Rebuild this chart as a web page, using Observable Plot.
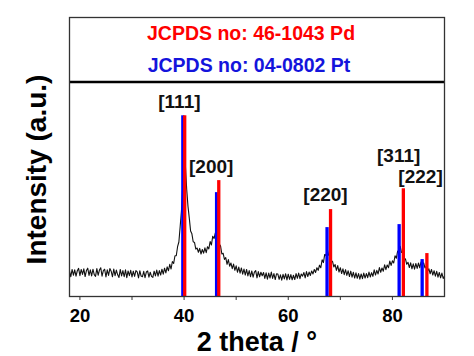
<!DOCTYPE html>
<html><head><meta charset="utf-8">
<script src="https://cdn.jsdelivr.net/npm/d3@7"></script>
<script src="https://cdn.jsdelivr.net/npm/@observablehq/plot@0.6"></script>
<style>
html,body{margin:0;padding:0;background:#fff;}
#chart svg{display:block;}
</style></head><body><div id="chart"></div>
<script>
// XRD pattern: 2θ grid start/step, intensity (a.u.)
const thetaStart = 18, thetaStep = 0.25;
const intensity = [
0.118,0.092,0.126,0.099, 0.124,0.095,0.120,0.131, 0.097,0.126,0.103,0.129, 0.093,0.121,0.132,0.098,
0.124,0.096,0.127,0.102, 0.094,0.130,0.099,0.123, 0.134,0.095,0.121,0.127, 0.091,0.124,0.098,0.130,
0.118,0.092,0.128,0.097, 0.123,0.101,0.089,0.126, 0.096,0.121,0.092,0.124, 0.088,0.119,0.097,0.122,
0.091,0.118,0.094,0.121, 0.115,0.087,0.120,0.095, 0.092,0.117,0.088,0.114, 0.119,0.090,0.113,0.094,
0.089,0.118,0.096,0.123, 0.095,0.121,0.100,0.127, 0.104,0.132,0.110,0.138, 0.120,0.150,0.128,0.163,
0.154,0.190,0.190,0.232, 0.254,0.326,0.400,0.520, 0.670,0.610,0.500,0.420, 0.365,0.305,0.292,0.255,
0.252,0.221,0.226,0.206, 0.224,0.198,0.219,0.202, 0.227,0.204,0.232,0.222, 0.256,0.240,0.281,0.270,
0.296,0.284,0.287,0.244, 0.236,0.198,0.201,0.173, 0.181,0.150,0.172,0.141, 0.156,0.130,0.151,0.122,
0.143,0.113,0.137,0.109, 0.133,0.104,0.128,0.100, 0.126,0.096,0.121,0.092, 0.119,0.090,0.114,0.121,
0.087,0.116,0.092,0.113, 0.097,0.112,0.084,0.110, 0.081,0.109,0.086,0.114, 0.084,0.107,0.079,0.106,
0.105,0.080,0.101,0.076, 0.103,0.082,0.106,0.077, 0.104,0.080,0.102,0.078, 0.099,0.079,0.107,0.085,
0.109,0.083,0.105,0.095, 0.112,0.087,0.116,0.093, 0.114,0.098,0.119,0.105, 0.126,0.112,0.134,0.122,
0.146,0.134,0.171,0.158, 0.196,0.190,0.222,0.192, 0.192,0.160,0.164,0.138, 0.149,0.122,0.144,0.114,
0.134,0.107,0.129,0.102, 0.125,0.098,0.120,0.093, 0.118,0.090,0.113,0.086, 0.110,0.085,0.107,0.081,
0.105,0.083,0.109,0.086, 0.107,0.088,0.114,0.091, 0.111,0.094,0.124,0.100, 0.122,0.105,0.135,0.113,
0.133,0.118,0.148,0.125, 0.147,0.134,0.165,0.145, 0.166,0.156,0.190,0.178, 0.212,0.201,0.234,0.205,
0.204,0.170,0.175,0.150, 0.159,0.135,0.157,0.129, 0.152,0.127,0.154,0.131, 0.156,0.134,0.161,0.150,
0.157,0.133,0.141,0.118, 0.129,0.106,0.126,0.100, 0.120,0.095,0.117,0.090, 0.112,0.087,0.109,0.084,
0.096
];
// Reference stick patterns
const ptPositions = [39.76, 46.24, 67.45, 81.29, 85.71];
const ptHeights   = [0.842, 0.484, 0.321, 0.335, 0.172];
const pdPositions = [40.12, 46.66, 68.12, 82.10, 86.62];
const pdHeights   = [0.842, 0.540, 0.405, 0.502, 0.200];
// Miller index labels
const hklLabels = ["[111]", "[200]", "[220]", "[311]", "[222]"];
const hklX = [39.1, 45.2, 67.15, 81.2, 85.4];
const hklY = [0.907, 0.605, 0.474, 0.656, 0.558];
// Legend / axis text
const pdLegend = "JCPDS no: 46-1043 Pd";
const ptLegend = "JCPDS no: 04-0802 Pt";
const xTicks = [20, 40, 60, 80];
const xMinorTicks = [30, 50, 70];
const xTitle = "2 theta / °";
const yTitle = "Intensity (a.u.)";
const separatorLevel = [1.0];

const pattern = intensity.map((v, i) => ({t: thetaStart + i * thetaStep, v}));
const pt = ptPositions.map((t, i) => ({t, h: ptHeights[i]}));
const pd = pdPositions.map((t, i) => ({t, h: pdHeights[i]}));
const hkl = hklLabels.map((s, i) => ({s, x: hklX[i], y: hklY[i]}));

const FONT = "'Liberation Sans', Arial, Helvetica, sans-serif";
const BLUE = "#0000ff", RED = "#ff0000";

const chart = Plot.plot({
  width: 474, height: 356,
  marginLeft: 69, marginRight: 30, marginTop: 17, marginBottom: 60,
  style: {fontFamily: FONT, background: "#fff", color: "#000"},
  x: {domain: [18, 90]},
  y: {domain: [0, 1.3], axis: null},
  marks: [
    Plot.line(pattern, {x: "t", y: "v", stroke: "#111", strokeWidth: 1.1}),
    Plot.ruleX(pt, {x: "t", y1: 0, y2: "h", stroke: BLUE, strokeWidth: 3.3}),
    Plot.ruleX(pd, {x: "t", y1: 0, y2: "h", stroke: RED, strokeWidth: 3.3}),
    Plot.ruleY(separatorLevel, {stroke: "#000", strokeWidth: 2.5}),
    Plot.frame({stroke: "#333", strokeWidth: 1.3}),
    Plot.text(hkl, {x: "x", y: "y", text: "s", fontSize: 19, fontWeight: "bold", fill: "#111"}),
    Plot.text([pdLegend], {frameAnchor: "top", dx: -6, dy: 16, lineAnchor: "middle", fontSize: 19.5, fontWeight: "bold", fill: RED}),
    Plot.text([ptLegend], {frameAnchor: "top", dx: -8, dy: 48, lineAnchor: "middle", fontSize: 19.5, fontWeight: "bold", fill: "#1414dc"}),
    Plot.axisX({ticks: xTicks, tickSize: 4, tickPadding: 8, fontSize: 18.5, fontWeight: "bold", label: null, stroke: "#333"}),
    Plot.axisX({ticks: xMinorTicks, tickSize: 4, tickFormat: () => "", label: null, stroke: "#333"}),
    Plot.text([xTitle], {frameAnchor: "bottom", dy: 54, lineAnchor: "bottom", fontSize: 27, fontWeight: "bold", fill: "#000"}),
    Plot.text([yTitle], {frameAnchor: "left", dx: -32, dy: 12.5, rotate: -90, lineAnchor: "middle", textAnchor: "middle", fontSize: 28, fontWeight: "bold", fill: "#000"})
  ]
});
document.getElementById("chart").appendChild(chart);
</script>
</body></html>
